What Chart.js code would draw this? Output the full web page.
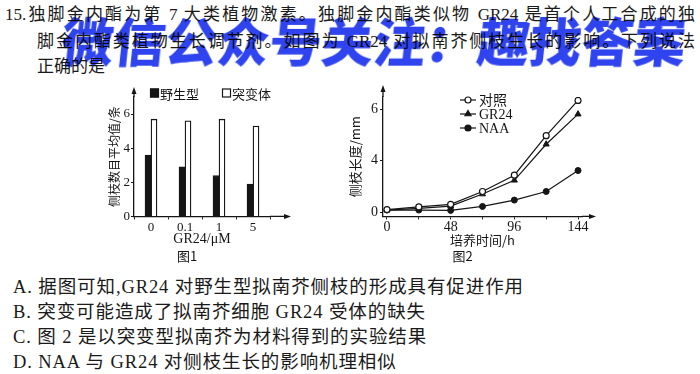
<!DOCTYPE html>
<html>
<head>
<meta charset="utf-8">
<script src="https://cdn.jsdelivr.net/npm/chart.js@4.4.0/dist/chart.umd.min.js"></script>
<style>
  body { margin: 0; width: 700px; height: 374px; background: #fff; position: relative; overflow: hidden;
         font-family: 'Liberation Serif', 'Noto Sans CJK SC', serif; color: #1a1a1a; }
  .q { position: absolute; font-size: 17px; line-height: 20px; white-space: nowrap; }
  .opt { font-size: 18.5px; letter-spacing: 0.9px; line-height: 22px; }
  .just { text-align: justify; text-align-last: justify; }
  .fig { position: absolute; }
  .mark { position: absolute; left: 62px; top: 11px; font-family: 'Noto Sans CJK SC', sans-serif; font-weight: 900;
          font-size: 52px; line-height: 58px; color: #2f44ee; white-space: nowrap; mix-blend-mode: multiply;
          transform: skewX(-6deg); }
</style>
</head>
<body>
<div class="q just" style="left:5px; top:5px; width:690px;">15.独脚金内酯为第 7 大类植物激素。独脚金内酯类似物 GR24 是首个人工合成的独</div>
<div class="q just" style="left:37px; top:32px; width:658px;">脚金内酯类植物生长调节剂。如图为 GR24 对拟南芥侧枝生长的影响。下列说法</div>
<div class="q" style="left:37px; top:57px;">正确的是</div>

<div class="fig" style="left:104px; top:84px;"><canvas id="fig1" width="196" height="182"></canvas></div>
<div class="fig" style="left:343px; top:84px;"><canvas id="fig2" width="257" height="182"></canvas></div>

<div class="q opt" style="left:13px; top:276px;">A. 据图可知,GR24 对野生型拟南芥侧枝的形成具有促进作用</div>
<div class="q opt" style="left:13px; top:301px;">B. 突变可能造成了拟南芥细胞 GR24 受体的缺失</div>
<div class="q opt" style="left:13px; top:326px;">C. 图 2 是以突变型拟南芥为材料得到的实验结果</div>
<div class="q opt" style="left:13px; top:351px;">D. NAA 与 GR24 对侧枝生长的影响机理相似</div>

<div class="mark">微信公众号关注：趣找答案</div>

<script>
// 图1: 侧枝数目平均值
const doseLabels = ['0', '0.1', '1', '5'];
const wildType = [3.6, 2.9, 2.4, 1.9];
const mutant = [5.7, 5.6, 5.7, 5.3];
const barYTicks = [0, 2, 4, 6];

// 图2: 侧枝长度
const hours = [0, 24, 48, 72, 96, 120, 144];
const control = [0.15, 0.3, 0.45, 1.2, 2.15, 4.45, 6.5];
const gr24 = [0.12, 0.22, 0.35, 1.05, 1.85, 3.95, 5.7];
const naa = [0.12, 0.12, 0.1, 0.33, 0.7, 1.2, 2.42];
const lineXTicks = [0, 24, 48, 72, 96, 120, 144];
const lineXLabels = ['0', '', '48', '', '96', '', '144'];
const lineYTicks = [0, 3, 6];
const lineYLabels = ['0', '4', '6'];

const INK = '#151515';
const SERIF = "'Liberation Serif', 'Noto Sans CJK SC', serif";
const CJK = "'Noto Sans CJK SC', sans-serif";

// axis lines run past the plot and end in arrow heads
const axisArrows = {
  id: 'axisArrows',
  afterDraw(chart, args, opts) {
    const { ctx, chartArea: a } = chart;
    ctx.save();
    ctx.strokeStyle = INK;
    ctx.fillStyle = INK;
    ctx.lineWidth = 1.3;
    ctx.beginPath();
    ctx.moveTo(a.left, a.top);
    ctx.lineTo(a.left, a.top - opts.extY);
    ctx.moveTo(a.right, a.bottom);
    ctx.lineTo(a.right + opts.extX, a.bottom);
    ctx.stroke();
    ctx.beginPath();
    ctx.moveTo(a.left, a.top - opts.extY - 5);
    ctx.lineTo(a.left - 2.5, a.top - opts.extY + 2);
    ctx.lineTo(a.left + 2.5, a.top - opts.extY + 2);
    ctx.closePath();
    ctx.moveTo(a.right + opts.extX + 5, a.bottom);
    ctx.lineTo(a.right + opts.extX - 2, a.bottom - 2.5);
    ctx.lineTo(a.right + opts.extX - 2, a.bottom + 2.5);
    ctx.closePath();
    ctx.fill();
    ctx.restore();
  }
};

// legend drawn at a fixed spot, styles taken from the datasets
const keyLegend = {
  id: 'keyLegend',
  afterDraw(chart, args, opts) {
    const ctx = chart.ctx;
    ctx.save();
    ctx.textBaseline = 'middle';
    ctx.textAlign = 'left';
    chart.data.datasets.forEach((ds, i) => {
      const x = opts.x + (opts.dx || 0) * i;
      const y = opts.y + (opts.dy || 0) * i;
      ctx.strokeStyle = ds.borderColor;
      ctx.fillStyle = ds.backgroundColor;
      let tx;
      if (opts.style === 'box') {
        ctx.lineWidth = 1.2;
        ctx.fillRect(x, y - 4.5, 9, 9);
        ctx.strokeRect(x + 0.5, y - 4, 8, 8);
        tx = x + 10;
      } else {
        ctx.lineWidth = 1.2;
        ctx.beginPath();
        ctx.moveTo(x, y);
        ctx.lineTo(x + 16, y);
        ctx.stroke();
        Chart.helpers.drawPoint(ctx, {
          pointStyle: ds.pointStyle, rotation: 0, radius: ds.pointRadius, borderWidth: ds.pointBorderWidth || 1
        }, x + 8, y);
        tx = x + 19;
      }
      ctx.fillStyle = INK;
      ctx.font = opts.font;
      ctx.fillText(ds.label, tx, y + 1);
    });
    ctx.restore();
  }
};

new Chart(document.getElementById('fig1'), {
  type: 'bar',
  data: {
    labels: doseLabels,
    datasets: [
      { label: '野生型', data: wildType, backgroundColor: INK, borderColor: INK, borderWidth: 1 },
      { label: '突变体', data: mutant, backgroundColor: '#fff', borderColor: INK, borderWidth: 1.3 },
    ]
  },
  options: {
    responsive: false,
    animation: false,
    layout: { padding: { top: 13, right: 30, left: 0, bottom: 0 } },
    datasets: { bar: { barThickness: 6 } },
    scales: {
      x: {
        offset: true,
        grid: { display: true, drawOnChartArea: false, offset: true, tickLength: 3, color: INK },
        border: { color: INK, width: 1.3 },
        ticks: { padding: 0, color: INK, font: { family: SERIF, size: 13 } },
        title: { display: true, text: 'GR24/μM', color: INK, padding: 0, font: { family: SERIF, size: 14 } },
        afterFit(s) { s.height = 31; }
      },
      y: {
        min: 0,
        max: 7,
        afterBuildTicks(s) { s.ticks = barYTicks.map(v => ({ value: v })); },
        grid: { drawOnChartArea: false, tickLength: 3, color: INK },
        border: { color: INK, width: 1.3 },
        ticks: { padding: 1, color: INK, font: { family: SERIF, size: 13 } },
        title: { display: true, text: '侧枝数目平均值/条', color: INK, padding: 3, font: { family: CJK, size: 12 } },
        afterFit(s) { s.width = 30; }
      }
    },
    plugins: {
      legend: { display: false },
      tooltip: { enabled: false },
      title: { display: true, position: 'bottom', text: '图1', color: INK, padding: { top: 1, bottom: 2 },
               font: { family: CJK, size: 13, weight: 'normal' } },
      axisArrows: { extX: 16, extY: 5 },
      keyLegend: { style: 'box', x: 46, y: 9, dx: 72, font: "13px " + CJK }
    }
  },
  plugins: [axisArrows, keyLegend]
});

const pts = ys => hours.map((h, i) => ({ x: h, y: ys[i] }));

new Chart(document.getElementById('fig2'), {
  type: 'line',
  data: {
    datasets: [
      { label: '对照', data: pts(control), borderColor: INK, backgroundColor: '#fff', pointStyle: 'circle',
        pointRadius: 3, pointBorderWidth: 1.2 },
      { label: 'GR24', data: pts(gr24), borderColor: INK, backgroundColor: INK, pointStyle: 'triangle',
        pointRadius: 3.5, pointBorderWidth: 1 },
      { label: 'NAA', data: pts(naa), borderColor: INK, backgroundColor: INK, pointStyle: 'circle',
        pointRadius: 3, pointBorderWidth: 1 },
    ]
  },
  options: {
    responsive: false,
    animation: false,
    layout: { padding: { top: 13, right: 18, left: 0, bottom: 0 } },
    elements: { line: { borderWidth: 1.2, tension: 0 } },
    scales: {
      x: {
        type: 'linear',
        min: -3,
        max: 147,
        afterBuildTicks(s) { s.ticks = lineXTicks.map(v => ({ value: v })); },
        grid: { drawOnChartArea: false, tickLength: 3, color: INK },
        border: { color: INK, width: 1.3 },
        ticks: { padding: 0, color: INK, font: { family: SERIF, size: 14 }, callback: (v, i) => lineXLabels[i] },
        title: { display: true, text: '培养时间/h', color: INK, padding: 0, font: { family: CJK, size: 13 } },
        afterFit(s) { s.height = 31; }
      },
      y: {
        min: -0.25,
        max: 6.7,
        afterBuildTicks(s) { s.ticks = lineYTicks.map(v => ({ value: v })); },
        grid: { drawOnChartArea: false, tickLength: 3, color: INK },
        border: { color: INK, width: 1.3 },
        ticks: { padding: 2, color: INK, font: { family: SERIF, size: 14 }, callback: (v, i) => lineYLabels[i] },
        title: { display: true, text: '侧枝长度/mm', color: INK, padding: 4, font: { family: CJK, size: 13 } },
        afterFit(s) { s.width = 40; }
      }
    },
    plugins: {
      legend: { display: false },
      tooltip: { enabled: false },
      title: { display: true, position: 'bottom', text: '图2', color: INK, padding: { top: 1, bottom: 2 },
               font: { family: CJK, size: 13, weight: 'normal' } },
      axisArrows: { extX: 9, extY: 7 },
      keyLegend: { style: 'line', x: 117, y: 16, dy: 14, font: "14px " + SERIF }
    }
  },
  plugins: [axisArrows, keyLegend]
});
</script>
</body>
</html>
